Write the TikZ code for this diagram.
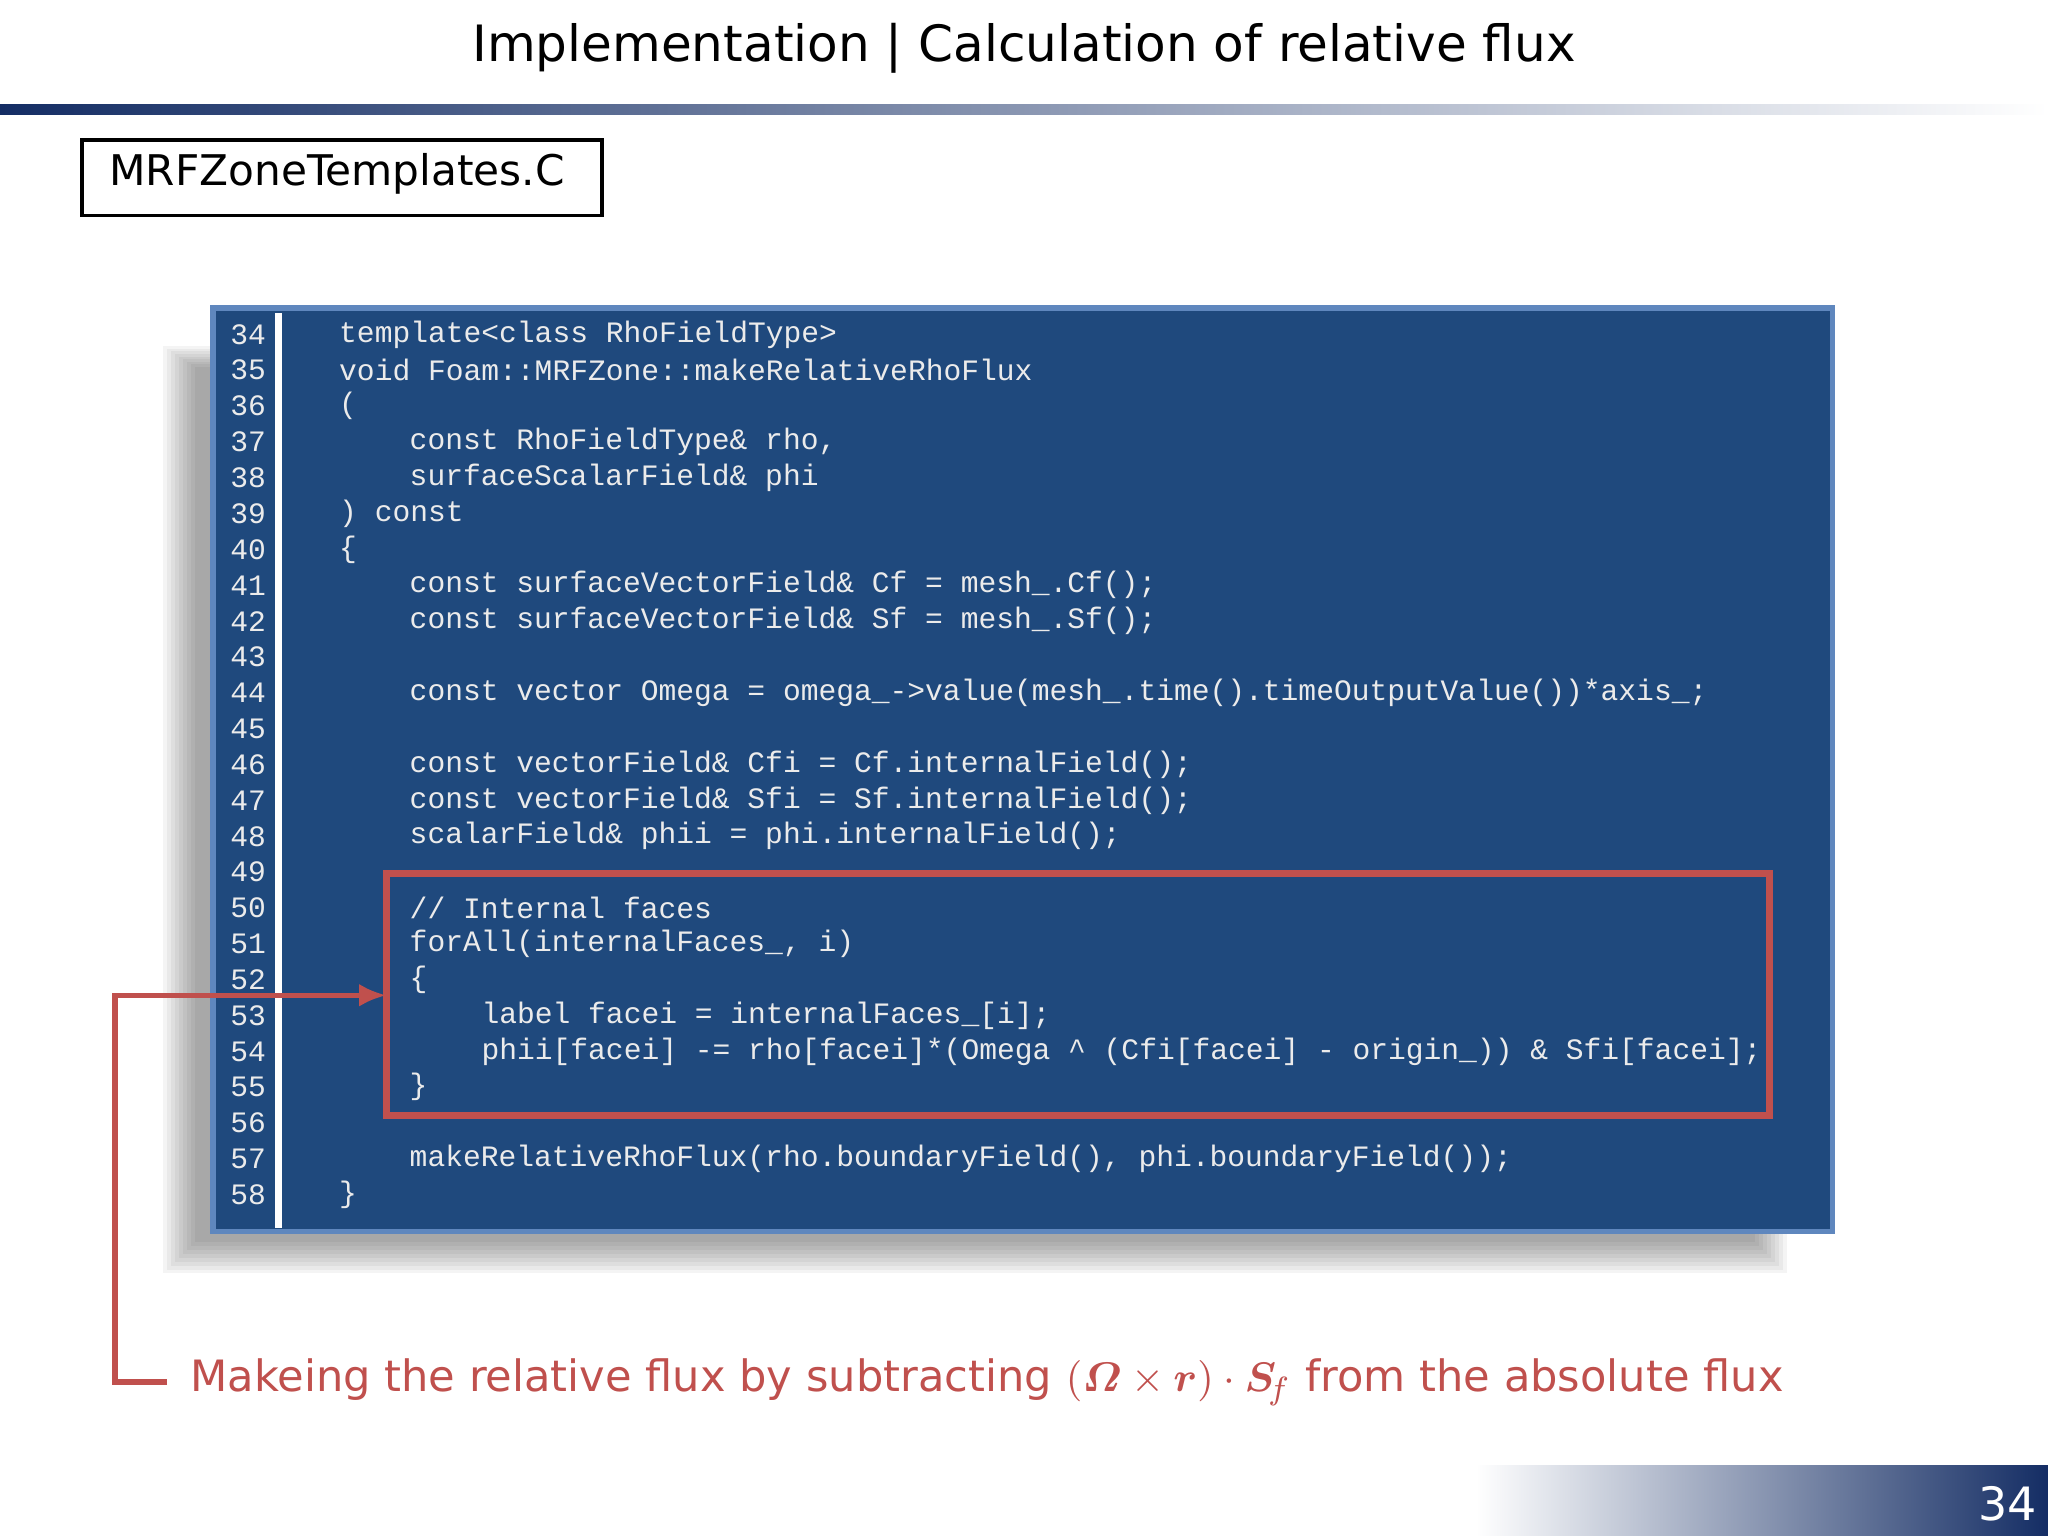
\documentclass[tikz,border=0pt]{standalone}
\usepackage{amsmath}
\usepackage{bm}
\usepackage{fontspec}
\setmainfont{DejaVu Sans}
\setmonofont{Liberation Mono}
\usetikzlibrary{arrows.meta}
\definecolor{codebg}{RGB}{31,73,125}
\definecolor{codeedge}{RGB}{95,135,190}
\definecolor{hred}{RGB}{192,80,77}
\definecolor{navy}{RGB}{20,45,100}
\definecolor{codetxt}{RGB}{235,235,235}
\tikzset{
  code/.style={anchor=west,inner sep=0pt,text=codetxt,font=\fontsize{6.45}{7}\selectfont\ttfamily},
  num/.style={anchor=center,inner sep=0pt,text=codetxt,font=\fontsize{6.45}{7}\selectfont\ttfamily},
}
\newcommand{\us}{\_}
\begin{document}
\begin{tikzpicture}[x=0.01cm,y=-0.01cm]
\useasboundingbox (0,0) rectangle (1568,1176);
\fill[white] (0,0) rectangle (1568,1176);
% title
\node[font=\fontsize{10.9}{13}\selectfont] (title) at (784,37) {Implementation | Calculation of relative flux};
\shade[left color=navy,right color=white] (0,80) rectangle (1568,88);
% file box
\draw[line width=0.8pt] (63,107) rectangle (461,165);
\node[font=\fontsize{9.2}{11}\selectfont,anchor=west,inner sep=0pt] (fname) at (83,133) {MRFZoneTemplates.C};
% shadow
\foreach \i in {0,...,8}{
  \fill[black,opacity=0.045] (125+\i*3,265+\i*2) rectangle (1368-\i*3,975-\i*3);
}
% code box
\fill[codebg] (163,236) rectangle (1403,943);
\draw[codeedge,line width=1.2pt] (163,236) rectangle (1403,943);
\draw[white,line width=1.5pt] (213,240) -- (213,940);
% line numbers
\foreach \n [count=\k from 0] in {34,...,58}{
  \node[num] (n\n) at (190,256+\k*27.45) {\n};
}
\def\L#1#2#3{\node[code] (c#1) at (#2,256+#1*27.45-34*27.45) {#3};}
\L{34}{259}{template<class RhoFieldType>}
\L{35}{259}{void Foam::MRFZone::makeRelativeRhoFlux}
\L{36}{259}{(}
\L{37}{313}{const RhoFieldType\& rho,}
\L{38}{313}{surfaceScalarField\& phi}
\L{39}{259}{) const}
\L{40}{259}{\{}
\L{41}{313}{const surfaceVectorField\& Cf = mesh\us.Cf();}
\L{42}{313}{const surfaceVectorField\& Sf = mesh\us.Sf();}
\L{44}{313}{const vector Omega = omega\us->value(mesh\us.time().timeOutputValue())*axis\us;}
\L{46}{313}{const vectorField\& Cfi = Cf.internalField();}
\L{47}{313}{const vectorField\& Sfi = Sf.internalField();}
\L{48}{313}{scalarField\& phii = phi.internalField();}
\L{50}{313}{// Internal faces}
\L{51}{313}{forAll(internalFaces\us, i)}
\L{52}{313}{\{}
\L{53}{368}{label facei = internalFaces\us[i];}
\L{54}{368}{phii[facei] -= rho[facei]*(Omega \textasciicircum{} (Cfi[facei] - origin\us)) \& Sfi[facei];}
\L{55}{313}{\}}
\L{57}{313}{makeRelativeRhoFlux(rho.boundaryField(), phi.boundaryField());}
\L{58}{259}{\}}
% highlight
\draw[hred,line width=1.5pt] (296,669) rectangle (1355,854);
\coordinate (hl) at (296,762);
\node[anchor=west,inner sep=0pt,text=hred,font=\fontsize{9.4}{11}\selectfont] (cap) at (145,1058)
  {Makeing the relative flux by subtracting $(\bm{\varOmega}\times\bm{r})\cdot\bm{S}_{\!f}$ from the absolute flux};
\coordinate (cs) at (128,1058);
\draw[hred,line width=1.2pt,-{Latex[length=6pt,width=5pt]}] (cs) -- (88,1058) -- (88,762) -- (hl);
% page number
\shade[left color=white,right color=navy] (1130,1122) rectangle (1568,1176);
\node[white,font=\fontsize{10}{12}\selectfont] (pg) at (1537,1151) {34};
\end{tikzpicture}
\end{document}
